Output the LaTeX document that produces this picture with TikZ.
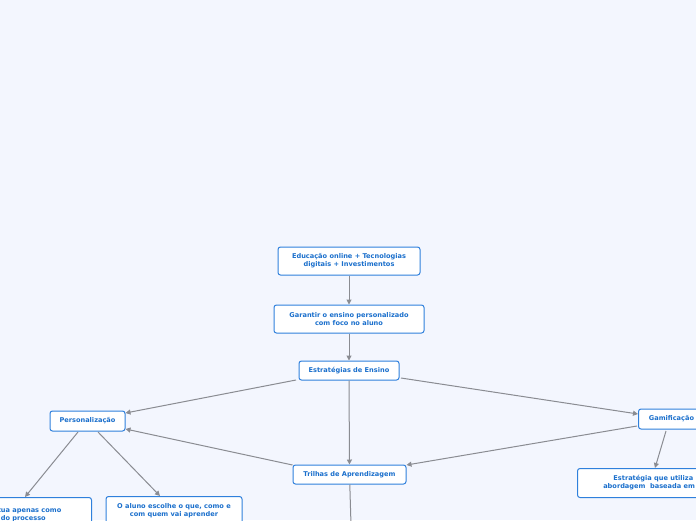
\documentclass[tikz,border=0pt]{standalone}
\usepackage{fontspec}
\setmainfont{DejaVu Sans}
\usetikzlibrary{arrows.meta}
\definecolor{bg}{HTML}{F3F6FE}
\definecolor{bd}{HTML}{2F80DC}
\definecolor{tx}{HTML}{1A6FCC}
\definecolor{ln}{HTML}{8A8C92}
\begin{document}
\begin{tikzpicture}[x=1pt,y=-1pt,
  box/.style={draw=bd,line width=1pt,fill=white,rounded corners=2.5pt,text=tx,font=\bfseries\fontsize{6.6}{8}\selectfont,align=center,inner sep=0pt},
  conn/.style={draw=ln,line width=1pt,-{Triangle[length=5pt,width=5pt]}}]
\useasboundingbox (0,0) rectangle (696,520);
\clip (0,0) rectangle (696,520);
\fill[bg] (0,0) rectangle (696,520);
\node[box,minimum width=142pt,minimum height=28pt] (top) at (349,261) {Educação online + Tecnologias\\digitais + Investimentos};
\node[box,minimum width=150pt,minimum height=28pt] (gar) at (349,319) {Garantir o ensino personalizado\\com foco no aluno};
\node[box,minimum width=100pt,minimum height=19pt] (est) at (349,370.5) {Estratégias de Ensino};
\node[box,minimum width=75pt,minimum height=20pt] (per) at (87.5,421) {Personalização};
\node[box,minimum width=66pt,minimum height=20pt,anchor=west] (gam) at (638,419) {Gamificação};
\node[box,minimum width=113pt,minimum height=19pt] (tri) at (349.5,474.5) {Trilhas de Aprendizagem};
\node[box,minimum width=174pt,minimum height=34pt,anchor=north east] (prof) at (92,497) {O professor atua apenas como\\mediador do processo};
\node[box,minimum width=136pt,minimum height=34pt,anchor=north] (alu) at (174,496) {O aluno escolhe o que, como e\\com quem vai aprender\\\phantom{x}};
\node[box,minimum width=170pt,minimum height=29pt,anchor=north west] (gst) at (577,468) {Estratégia que utiliza uma\\abordagem \ baseada em games};
\coordinate (down) at (351,525);
\draw[conn] (top) -- (gar);
\draw[conn] (gar) -- (est);
\draw[conn] (296,380) -- (per.east |- 0,413);
\draw[conn] (401,378) -- (gam.west |- 0,414);
\draw[conn] (est) -- (tri);
\draw[conn] (637,426) -- (tri.east |- 0,465);
\draw[conn] (tri.west |- 0,465) -- (per.east |- 0,429);
\draw[conn] (78,432) -- (25,497);
\draw[conn] (98,432) -- (160,496);
\draw[conn] (666,431) -- (655,468);
\draw[draw=ln,line width=1pt] (tri) -- (down);
\end{tikzpicture}
\end{document}
